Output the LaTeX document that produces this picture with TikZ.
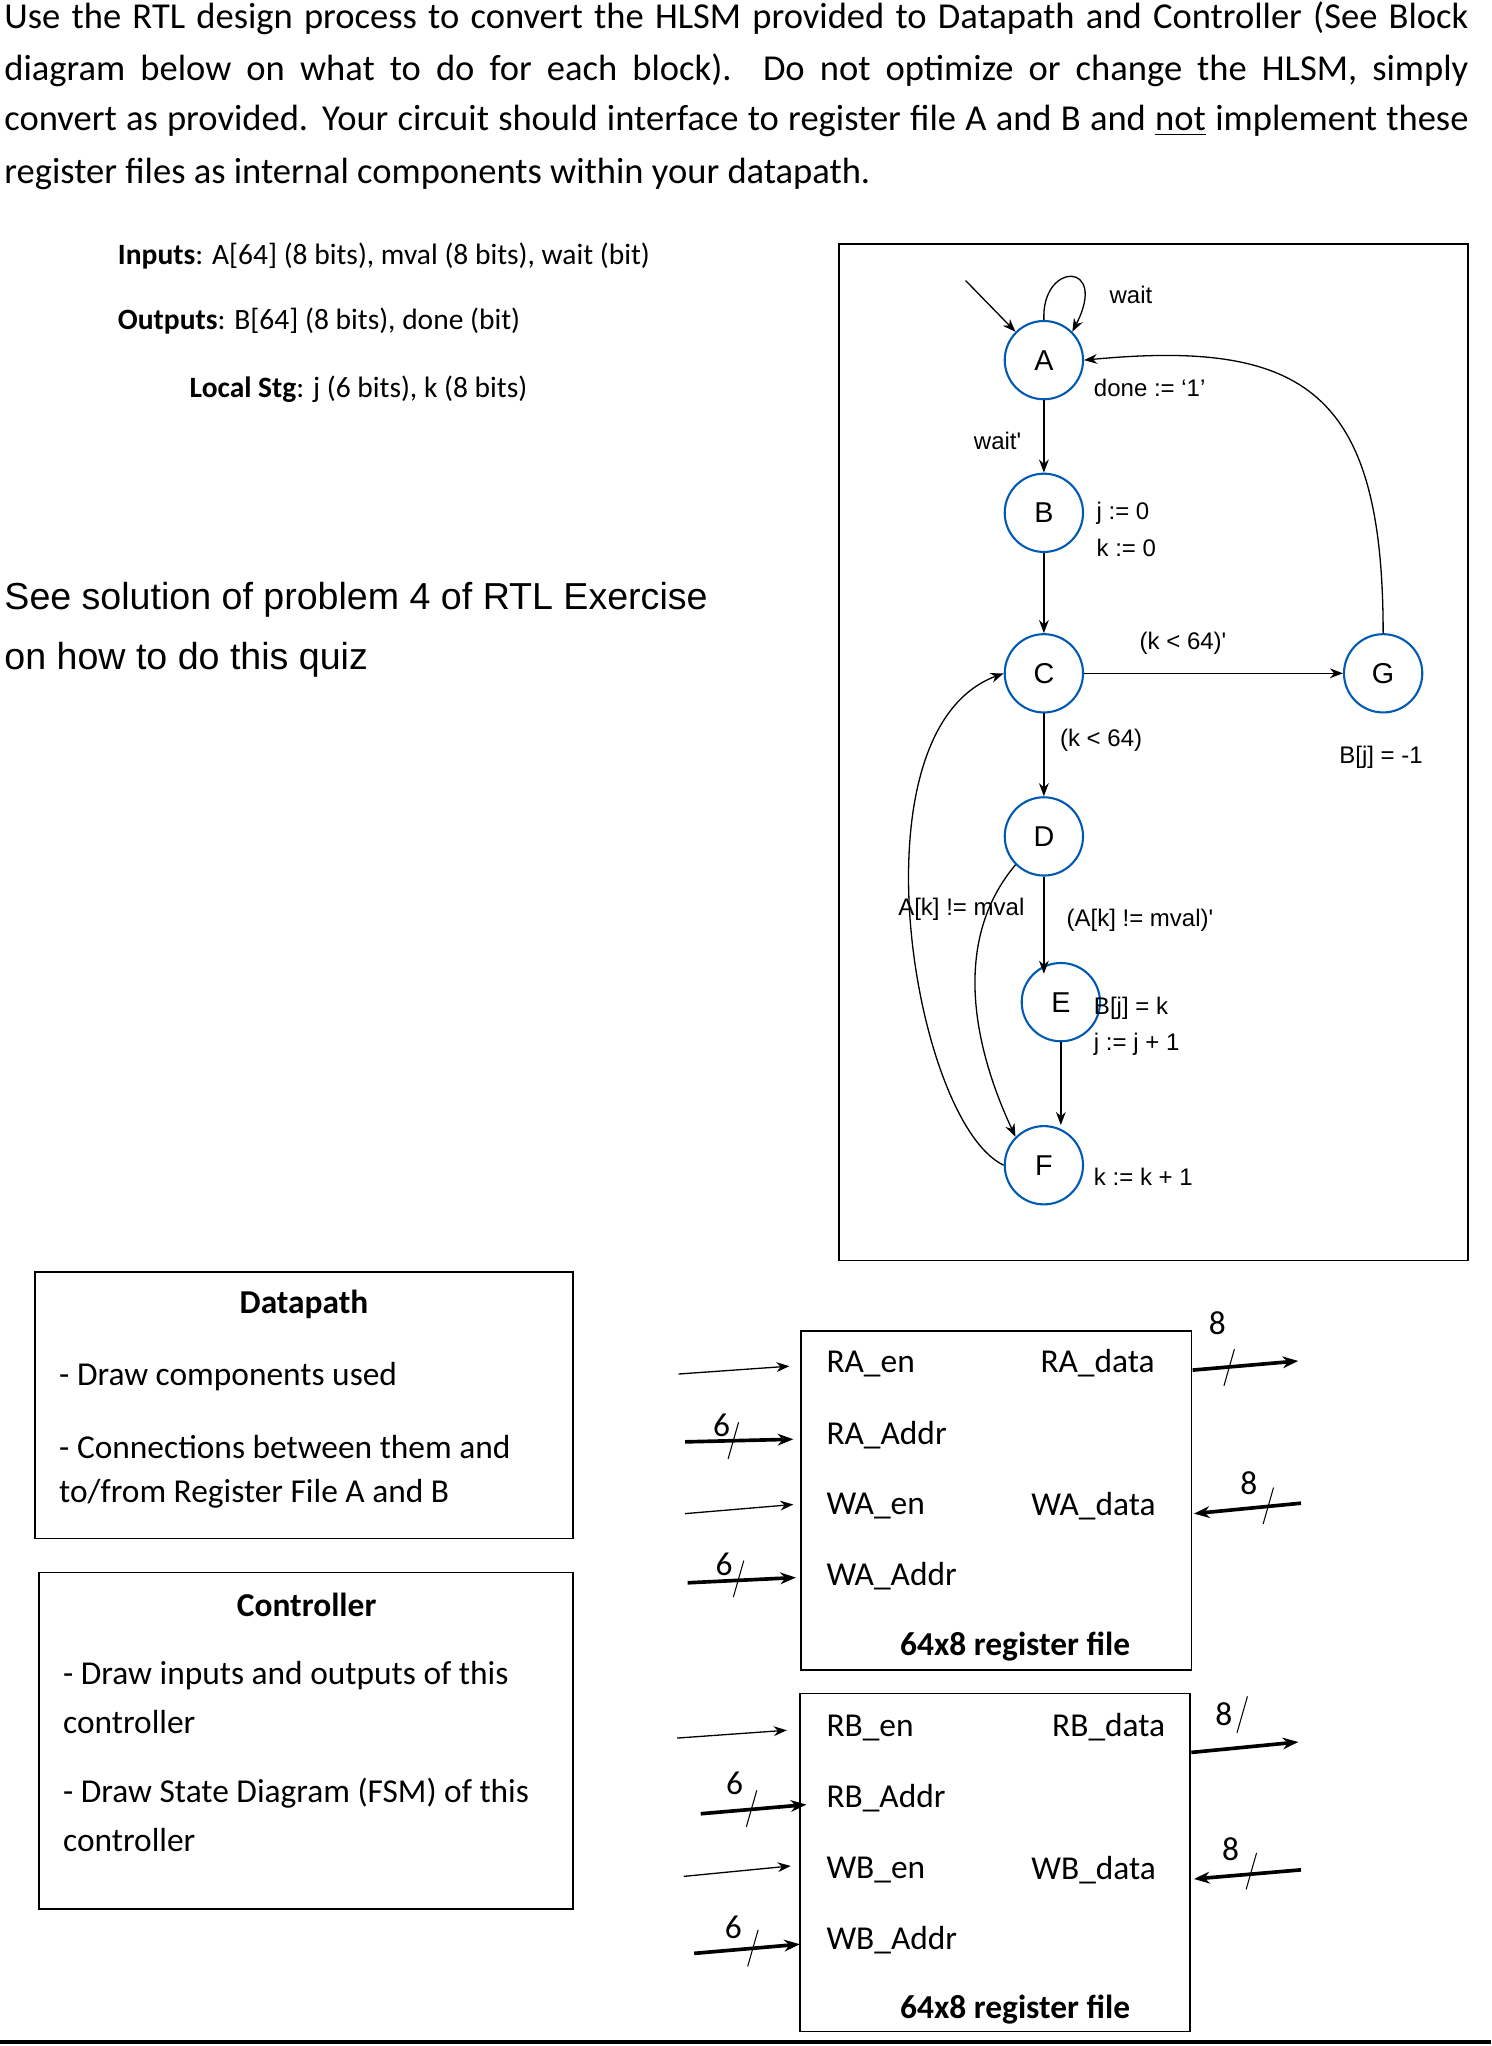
\documentclass[tikz,border=0pt]{standalone}
\usepackage{fontspec}
\setmainfont{Carlito}
\newfontfamily\arialf{Liberation Sans}
\usetikzlibrary{arrows.meta}
\begin{document}
\begin{tikzpicture}[x=0.5pt,y=-0.5pt,
  txt/.style={anchor=west,inner sep=0pt,font=\fontsize{14}{16}\selectfont},
  small/.style={anchor=west,inner sep=0pt,font=\fontsize{11.3}{13}\selectfont},
  hl/.style={anchor=west,inner sep=0pt,font=\arialf\fontsize{9.2}{10}\selectfont},
  st/.style={circle,draw=blue!50!cyan!70!black,thick,minimum size=30pt,inner sep=0pt,font=\arialf\fontsize{11}{12}\selectfont},
  rf/.style={anchor=west,inner sep=0pt,font=\fontsize{12.8}{14}\selectfont},
  arr/.style={-{Stealth[length=5pt]},line width=0.5pt},
  barr/.style={-{Stealth[length=6pt]},line width=1.4pt},
  box/.style={draw,line width=0.6pt}]
\useasboundingbox (0,0) rectangle (1143,1568);
\fill[white] (0,0) rectangle (1143,1568);
% header
\node[txt] (t1) at (3,14) {\makebox[561pt][s]{Use the RTL design process to convert the HLSM provided to Datapath and Controller (See Block}};
\node[txt] (t2) at (3,54) {\makebox[561pt][s]{diagram below on what to do for each block). Do not optimize or change the HLSM, simply}};
\node[txt] (t3) at (3,93) {\makebox[561pt][s]{convert as provided. Your circuit should interface to register file A and B and \underline{not} implement these}};
\node[txt] (t4) at (3,133) {register files as internal components within your datapath.};
\node[small] (i1) at (90,196) {\textbf{Inputs}: A[64] (8 bits), mval (8 bits), wait (bit)};
\node[small] (i2) at (90,246) {\textbf{Outputs}: B[64] (8 bits), done (bit)};
\node[small] (i3) at (145,298) {\textbf{Local Stg}: j (6 bits), k (8 bits)};
\node[anchor=west,inner sep=0pt,font=\arialf\fontsize{14.4}{16}\selectfont] (s1) at (3,460) {See solution of problem 4 of RTL Exercise};
\node[anchor=west,inner sep=0pt,font=\arialf\fontsize{14.4}{16}\selectfont] (s2) at (3,506) {on how to do this quiz};
% HLSM
\draw[box] (643,187) rectangle (1125,966);
\node[st] (A) at (800,276) {A};
\node[st] (B) at (800,393) {B};
\node[st] (C) at (800,516) {C};
\node[st] (D) at (800,641) {D};
\node[st] (E) at (813,768) {E};
\node[st] (F) at (800,893) {F};
\node[st] (G) at (1060,516) {G};
\coordinate (a0) at (740,215);
\draw[arr] (a0) -- (A.north west);
\draw[arr] (A.north) .. controls (798,200) and (850,200) .. (A.north east);
\draw[arr] (A) -- (B);
\draw[arr] (B) -- (C);
\draw[arr] (C) -- (D);
\draw[arr] (D.south) -- (D.south |- E.north west);
\draw[arr] (E) -- (E |- F.north);
\draw[arr] (C) -- (G);
\draw[arr] (G.north) .. controls (1060,300) and (1000,260) .. (A.east);
\draw[arr] (F.west) .. controls (700,860) and (650,560) .. (C.west);
\draw[arr] (D.south west) .. controls (730,720) and (745,800) .. (F.north west);
\node[hl] at (850,226) {wait};
\node[hl] at (838,297) {done := ‘1’};
\node[hl] at (746,338) {wait'};
\node[hl] at (840,393) {j := 0};
\node[hl] at (840,420) {k := 0};
\node[hl] at (873,493) {(k < 64)'};
\node[hl] at (812,567) {(k < 64)};
\node[hl] at (1026,580) {B[j] = -1};
\node[hl] at (688,697) {A[k] != mval};
\node[hl] at (817,705) {(A[k] != mval)'};
\node[hl] at (838,773) {B[j] = k};
\node[hl] at (838,800) {j := j + 1};
\node[hl] at (838,902) {k := k + 1};
% Datapath / Controller
\draw[box] (27,975) rectangle (439,1179);
\node[rf,anchor=center] at (233,1000) {\textbf{Datapath}};
\node[rf] at (45,1055) {- Draw components used};
\node[rf] at (45,1109) {- Connections between them and};
\node[rf] at (45,1145) {to/from Register File A and B};
\draw[box] (30,1205) rectangle (439,1463);
\node[rf,anchor=center] at (235,1230) {\textbf{Controller}};
\node[rf] at (48,1284) {- Draw inputs and outputs of this};
\node[rf] at (48,1320) {controller};
\node[rf] at (48,1374) {- Draw State Diagram (FSM) of this};
\node[rf] at (48,1410) {controller};
% Register file A
\draw[box] (614,1020) rectangle (913,1280);
\node[rf] (ra1) at (633,1045) {RA\_en};
\node[rf] (ra2) at (797,1045) {RA\_data};
\node[rf] (ra3) at (633,1100) {RA\_Addr};
\node[rf] (ra4) at (633,1154) {WA\_en};
\node[rf] (ra5) at (790,1154) {WA\_data};
\node[rf] (ra6) at (633,1208) {WA\_Addr};
\node[rf,anchor=center] at (778,1262) {\textbf{64x8 register file}};
\draw[arr] (520,1053) -- (605,1047);
\draw[barr] (525,1105) -- (608,1103); \draw (558,1118)--(566,1090); \node[rf,anchor=center] at (553,1092) {6};
\draw[arr] (525,1160) -- (608,1153);
\draw[barr] (527,1213) -- (610,1209); \draw (562,1224)--(570,1196); \node[rf,anchor=center] at (555,1199) {6};
\draw[barr] (914,1050) -- (995,1043); \draw (938,1062)--(946,1034); \node[rf,anchor=center] at (933,1014) {8};
\draw[barr] (997,1152) -- (915,1160); \draw (968,1168)--(976,1140); \node[rf,anchor=center] at (957,1137) {8};
% Register file B
\draw[box] (613,1298) rectangle (912,1557);
\node[rf] (rb1) at (633,1324) {RB\_en};
\node[rf] (rb2) at (806,1324) {RB\_data};
\node[rf] (rb3) at (633,1378) {RB\_Addr};
\node[rf] (rb4) at (633,1433) {WB\_en};
\node[rf] (rb5) at (790,1433) {WB\_data};
\node[rf] (rb6) at (633,1487) {WB\_Addr};
\node[rf,anchor=center] at (778,1540) {\textbf{64x8 register file}};
\draw[arr] (519,1332) -- (603,1326);
\draw[barr] (537,1390) -- (618,1383); \draw (572,1400)--(580,1372); \node[rf,anchor=center] at (563,1367) {6};
\draw[arr] (524,1438) -- (606,1430);
\draw[barr] (532,1497) -- (613,1490); \draw (573,1507)--(581,1479); \node[rf,anchor=center] at (562,1477) {6};
\draw[barr] (913,1343) -- (995,1335); \draw (948,1328)--(956,1300); \node[rf,anchor=center] at (938,1314) {8};
\draw[barr] (997,1433) -- (915,1440); \draw (955,1448)--(963,1420); \node[rf,anchor=center] at (943,1417) {8};
\draw[line width=1.5pt] (0,1565) -- (1143,1565);
\end{tikzpicture}
\end{document}
